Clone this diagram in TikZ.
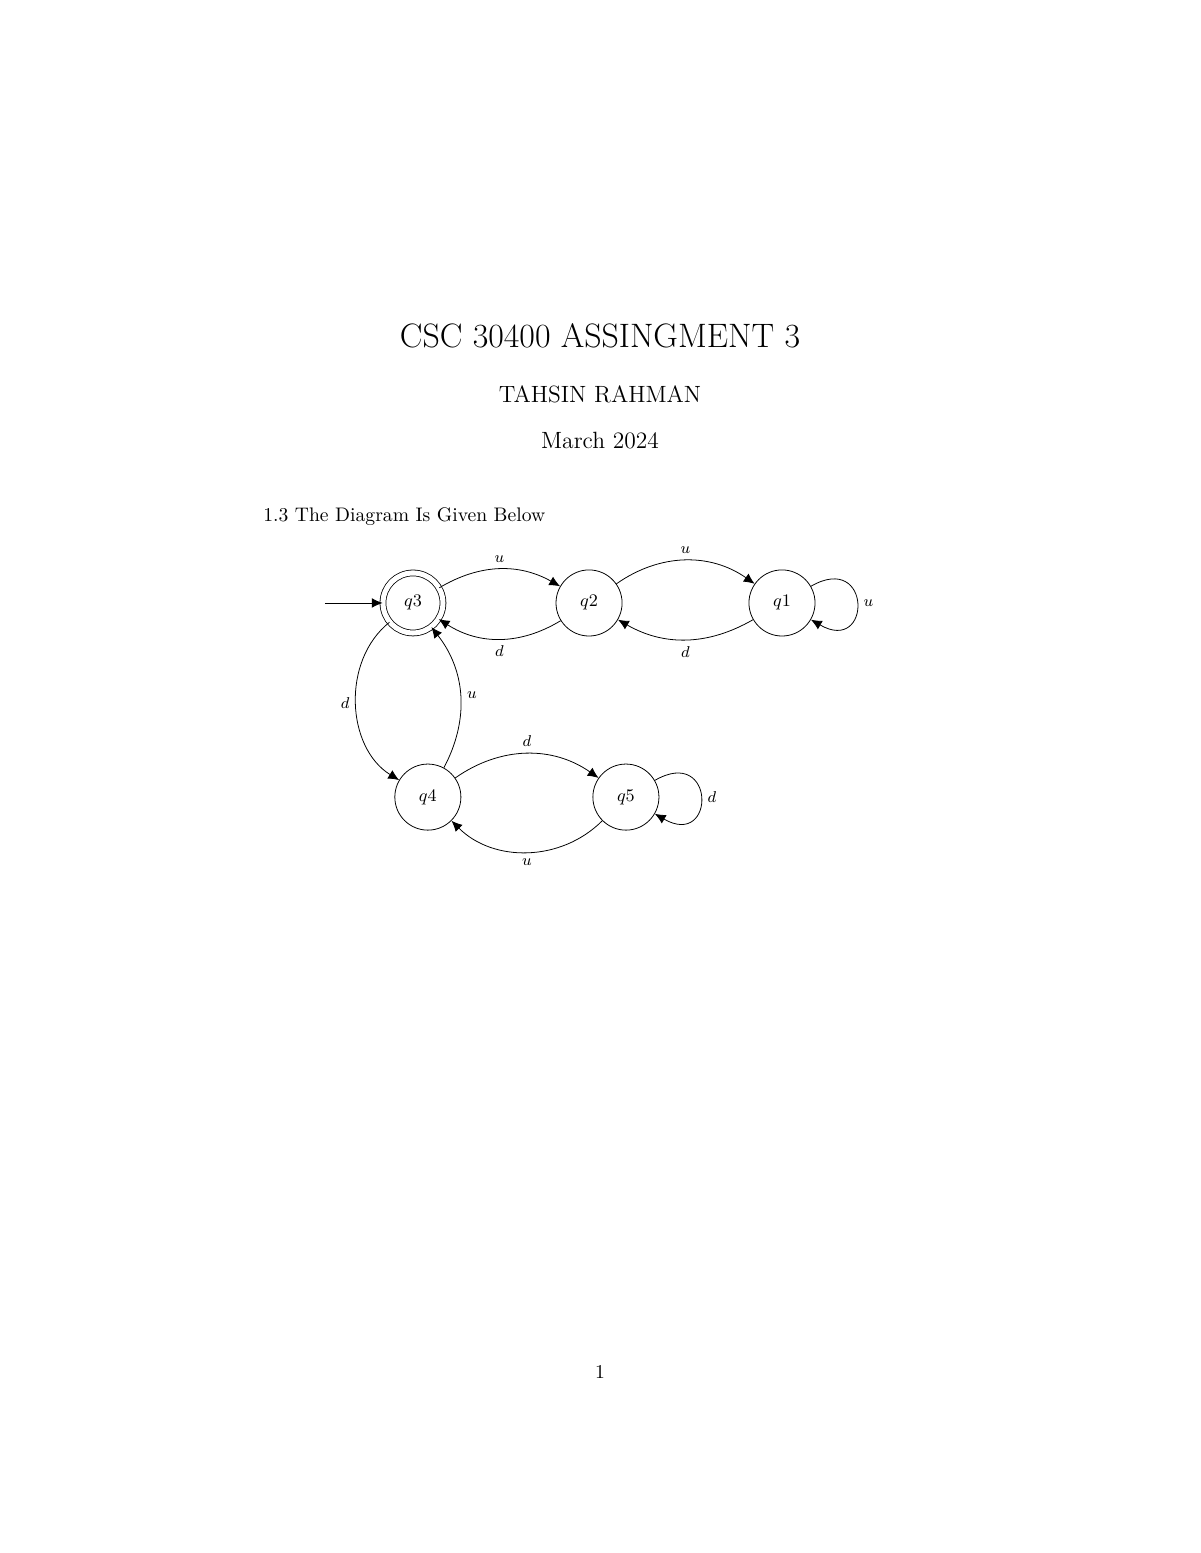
\documentclass[tikz,border=0pt]{standalone}
\usepackage{tikz}
\usepackage{amsmath}
\usetikzlibrary{positioning,arrows.meta}
\tikzset{
  statenode/.style = {shape=circle, draw, minimum size=33.7pt,
                      inner sep=0pt, font=\small},
  finalnode/.style = {statenode, double, double distance=2.6pt,
                      minimum size=30.6pt},
  selfloop/.style  = {loop, out=30, in=-30, distance=36pt},
  pagetext/.style  = {anchor=base, inner sep=0pt, font=\normalsize},
  maintitle/.style = {pagetext, font=\LARGE},
  subline/.style   = {pagetext, font=\large}
}
\begin{document}
\begin{tikzpicture}
  [
    x                 = 1pt,
    y                 = 1pt,
    on grid,
    >                 = {Latex[length=5.5pt, width=5pt]},
    every edge/.style = {draw, ->},
    every node/.style = {font=\footnotesize}
  ]
  \useasboundingbox (0,0) rectangle (612,-792);

  % title block
  \node [maintitle] (title)  at (306,-177)   {CSC 30400 ASSINGMENT 3};
  \node [subline]   (author) at (306,-205.5) {TAHSIN RAHMAN};
  \node [subline]   (date)   at (306,-228.5) {March 2024};
  \node [pagetext, anchor=base west] (caption) at (134.1,-266)
        {1.3 The Diagram Is Given Below};
  \node [pagetext]  (pageno) at (306,-702.8) {1};

  % states
  \node [finalnode] (q3) at (210.6,-307.5) {$q3$};
  \node [statenode] (q2) [right=89.8pt of q3] {$q2$};
  \node [statenode] (q1) [right=98.4pt of q2] {$q1$};
  \node [statenode] (q4) [below=99pt of q3, xshift=7.6pt] {$q4$};
  \node [statenode] (q5) [right=101pt of q4] {$q5$};
  \coordinate [left=44.9pt of q3] (init);

  % transitions
  \draw [->] (init) -- (q3);
  \path (q3) edge [bend left=30]  node [above] {$u$} (q2)
        (q2) edge [bend left=32]  node [below] {$d$} (q3)
        (q2) edge [bend left=35]  node [above] {$u$} (q1)
        (q1) edge [bend left=30]  node [below] {$d$} (q2)
        (q1) edge [selfloop]      node [right] {$u$} (q1)
        (q3) edge [bend right=55] node [left]  {$d$} (q4)
        (q4) edge [bend right=33] node [right] {$u$} (q3)
        (q4) edge [bend left=35]  node [above] {$d$} (q5)
        (q5) edge [bend left=45]  node [below] {$u$} (q4)
        (q5) edge [selfloop]      node [right] {$d$} (q5);
\end{tikzpicture}
\end{document}
